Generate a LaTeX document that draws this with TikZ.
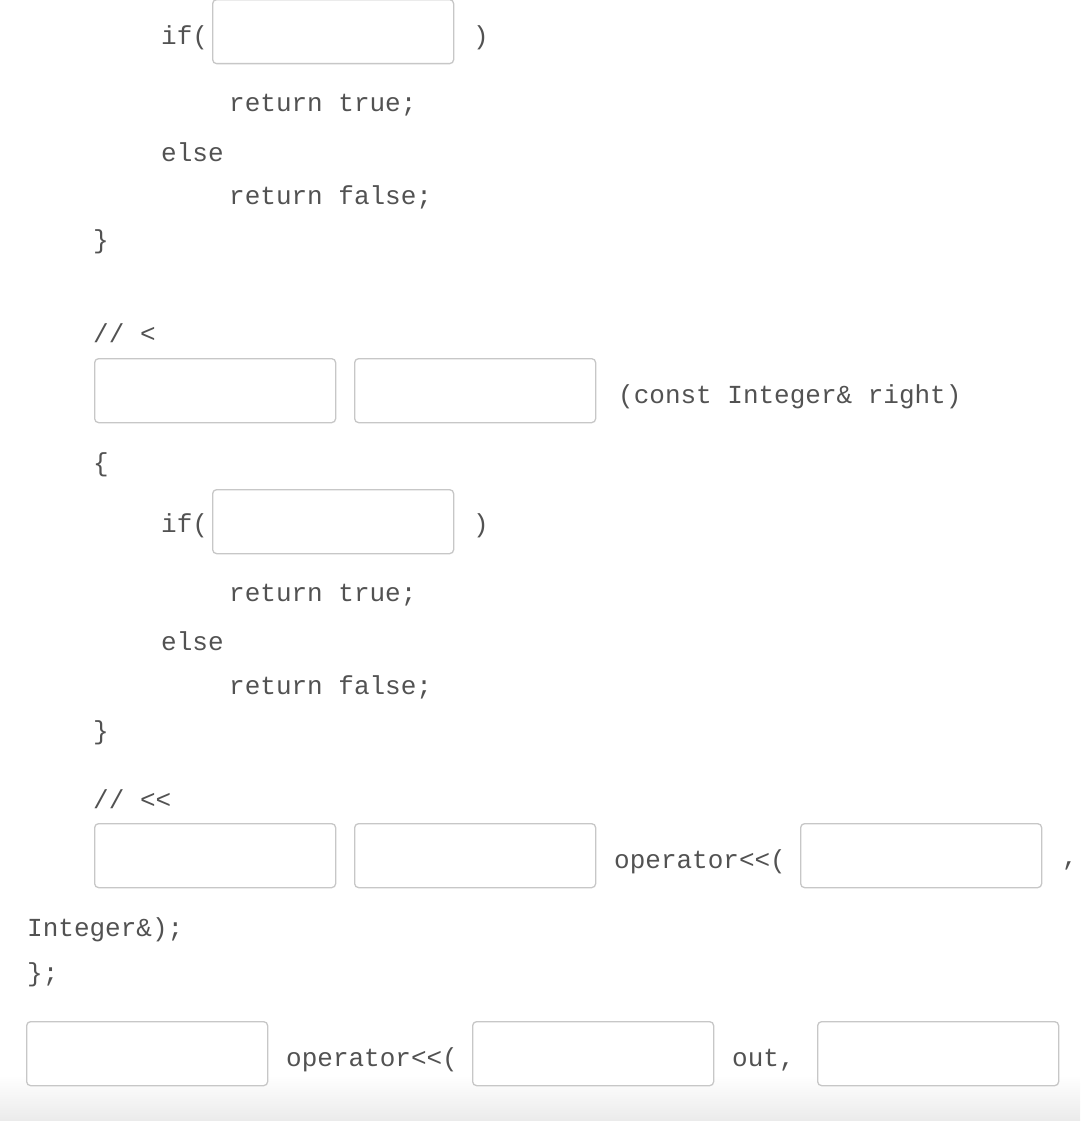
\documentclass[tikz,border=0pt]{standalone}
\usepackage{fontspec}
\setmonofont{Liberation Mono}
\begin{document}
\begin{tikzpicture}[x=1pt,y=-1pt,
  code/.style={anchor=west,inner sep=0pt,font=\ttfamily\fontsize{26}{26}\selectfont,text=black!68},
  inbox/.style={draw=black!22,line width=1.3pt,rounded corners=4pt,fill=white,minimum width=241pt,minimum height=64pt,inner sep=0pt,anchor=north west}]
\useasboundingbox (0,0) rectangle (1080,1121);
\shade[top color=white,bottom color=black!8] (0,1075) rectangle (1080,1121);
% first block
\node[code] (if1) at (161,38) {if(};
\node[inbox] (b1) at (212,-1) {};
\node[code] (p1) at (473,38) {)};
\node[code] (rt1) at (229,105) {return true;};
\node[code] (el1) at (161,152) {else};
\node[code] (rf1) at (229,197) {return false;};
\node[code] (cb1) at (93,242) {\}};
% <
\node[code] (c2) at (93,333) {// <};
\node[inbox] (b2) at (94,358) {};
\node[inbox] (b3) at (354,358) {};
\node[code] (sig2) at (618,397) {(const Integer\& right)};
\node[code] (ob2) at (93,465) {\{};
\node[code] (if2) at (161,526) {if(};
\node[inbox] (b4) at (212,489) {};
\node[code] (p2) at (473,526) {)};
\node[code] (rt2) at (229,595) {return true;};
\node[code] (el2) at (161,641) {else};
\node[code] (rf2) at (229,687) {return false;};
\node[code] (cb2) at (93,733) {\}};
% <<
\node[code] (c3) at (93,799) {// <<};
\node[inbox] (b5) at (94,823) {};
\node[inbox] (b6) at (354,823) {};
\node[code] (op1) at (614,862) {operator<<(};
\node[inbox] (b7) at (800,823) {};
\node[code] (cm1) at (1062,866) {,};
\node[code] (int) at (27,930) {Integer\&);};
\node[code] (end) at (27,975) {\};};
% bottom
\node[inbox] (b8) at (26,1021) {};
\node[code] (op2) at (286,1060) {operator<<(};
\node[inbox] (b9) at (472,1021) {};
\node[code] (out) at (732,1060) {out,};
\node[inbox] (b10) at (817,1021) {};
\end{tikzpicture}
\end{document}
